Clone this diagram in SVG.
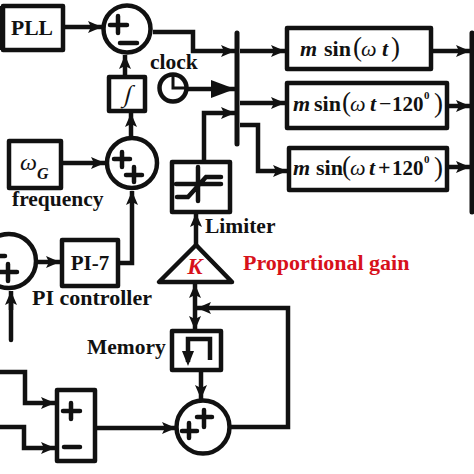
<svg xmlns="http://www.w3.org/2000/svg" width="474" height="474" viewBox="0 0 474 474">
<style>
text{font-family:"Liberation Serif","Times New Roman",serif;font-weight:bold;fill:#111}
.b{fill:#fff;stroke:#111;stroke-width:4.5;stroke-linejoin:round}
.c{fill:none;stroke:#111;stroke-width:4.5;stroke-linejoin:miter}
.a{marker-end:url(#ar)}
.s{fill:none;stroke:#111;stroke-width:4.5;stroke-linecap:round}
.l{font-size:21.5px}
.f{font-size:22px;font-style:italic}
.g{font-size:22px}
.n{font-size:21px}
.p{font-size:27px;font-weight:normal}
.o{font-size:22px;font-style:italic;font-weight:normal}
</style>
<defs>
<marker id="ar" markerUnits="userSpaceOnUse" markerWidth="14" markerHeight="12" refX="14" refY="6" orient="auto"><path d="M0 0L14 6L0 12L3 6Z" fill="#111"/></marker>
<marker id="al" markerUnits="userSpaceOnUse" markerWidth="14" markerHeight="12" refX="14" refY="6" orient="auto-start-reverse"><path d="M0 0L14 6L0 12L3 6Z" fill="#111"/></marker>
<marker id="big" markerUnits="userSpaceOnUse" markerWidth="24" markerHeight="20" refX="24" refY="10" orient="auto"><path d="M0 1L24 10L0 19Z" fill="#111"/></marker>
</defs>
<rect width="474" height="474" fill="#fff"/>
<g id="connectors">
<path class="c a" d="M63 27H102"/>
<path class="c a" d="M153 32H193V51H235"/>
<path class="c a" d="M125 75V55"/>
<path class="c a" d="M131 138V113"/>
<path class="c a" d="M61 163H105"/>
<path class="c" d="M119 263H132V191" marker-end="url(#ar)"/>
<path class="c" d="M186 89H235" marker-end="url(#big)"/>
<path class="c a" d="M204 161V113H235"/>
<path class="c a" d="M196 246V213"/>
<path class="c a" d="M38 262H60"/>
<path d="M11 340V300" fill="none" stroke="#111" stroke-width="4.5" stroke-linecap="round"/>
<path class="c a" d="M11 310V291"/>
<path class="c" d="M195 330V284" marker-start="url(#al)" marker-end="url(#al)"/>
<path class="c a" d="M230 427H288V308H197"/>
<path class="c a" d="M201 371V399"/>
<path class="c a" d="M0 372H25V403H55"/>
<path class="c a" d="M0 427H24V448H55"/>
<path class="c a" d="M96 428H176"/>
<path class="c a" d="M240 51H285"/>
<path class="c a" d="M240 103H285"/>
<path class="c a" d="M240 125H258V171H287"/>
<path class="c a" d="M432 51H470"/>
<path class="c a" d="M448 106H470"/>
<path class="c a" d="M448 167H470"/>
<path d="M237 33V144" fill="none" stroke="#111" stroke-width="5" stroke-linecap="round"/>
<path d="M472 33V212" fill="none" stroke="#111" stroke-width="5" stroke-linecap="round"/>
</g>
<g id="pll"><rect class="b" x="3" y="6" width="60" height="44"/><path d="M2 6V50" stroke="#111" stroke-width="5"/><text class="g" x="32" y="35" text-anchor="middle" textLength="42" lengthAdjust="spacingAndGlyphs">PLL</text></g>
<g id="sum1"><circle class="b" cx="127" cy="29" r="23.5"/><path class="s" d="M110 25H127M118 16V33M120 43H137"/></g>
<g id="integrator"><rect class="b" x="109" y="77" width="36" height="34"/><text x="127" y="102" font-size="24" text-anchor="middle" transform="skewX(-14) translate(25 0)" style="font-weight:normal">∫</text></g>
<g id="sum2"><circle class="b" cx="132" cy="163" r="25"/><path class="s" d="M114 159H130M122 152V167M126 175H142M134 167V182"/></g>
<g id="omega"><rect class="b" x="9" y="141" width="52" height="47"/><text x="20" y="170" font-size="24" style="font-style:italic;font-weight:normal">ω</text><text x="37" y="179" font-size="16" style="font-style:italic">G</text></g>
<g id="gridfreq"><text class="l" x="12" y="206">frequency</text></g>
<g id="clock"><text class="l" x="150" y="69">clock</text><circle class="b" cx="173" cy="88" r="13.5"/><path d="M173 75V88H186" fill="none" stroke="#111" stroke-width="3"/></g>
<g id="limiter"><rect class="b" x="172" y="162" width="58" height="50"/><path class="s" d="M177 197H188L206 177H221M176 184H221M198 167V201"/><text class="l" x="205" y="233">Limiter</text></g>
<g id="gain"><path class="b" d="M196 245L159 282H232Z"/><text x="195" y="274" font-size="23" text-anchor="middle" style="fill:#d7111b;font-style:italic">K</text><text x="243" y="270" font-size="22" style="fill:#d7111b">Proportional gain</text></g>
<g id="pi"><rect class="b" x="62" y="240" width="56" height="46"/><text x="90" y="270" font-size="21" text-anchor="middle">PI-7</text><text x="32" y="305" font-size="22">PI controller</text></g>
<g id="sum0"><circle class="b" cx="9" cy="261" r="27"/><path class="s" d="M0 256H5M0 272H17M8 264V281"/></g>
<g id="memory"><rect class="b" x="172" y="331" width="49" height="39"/><path d="M210 360V339H188V362" fill="none" stroke="#111" stroke-width="4.5"/><path d="M182 351H194L188 366Z" fill="#111"/><text class="l" x="87" y="354">Memory</text></g>
<g id="sub"><rect class="b" x="57" y="390" width="38" height="71"/><path class="s" d="M63 411H80M71 403V419M64 447H80"/></g>
<g id="sum3"><circle class="b" cx="203" cy="427" r="26.5"/><path class="s" d="M197 417H212M204 410V427M182 431H197M189 423V438"/></g>
<g id="m1"><rect class="b" x="287" y="28" width="144" height="41"/><text class="f" x="300" y="56">m</text><text class="g" x="324" y="56">sin</text><text class="p" x="353" y="56">(</text><text class="o" x="361" y="56">ω</text><text class="f" x="382" y="56">t</text><text class="p" x="391" y="56">)</text></g>
<g id="m2"><rect class="b" x="287" y="83" width="160" height="45"/><text class="f" x="293" y="111">m</text><text class="g" x="314" y="111">sin</text><text class="p" x="342" y="111">(</text><text class="o" x="350" y="111">ω</text><text class="f" x="370" y="111">t</text><text class="g" x="379" y="111" style="font-weight:normal">−</text><text class="n" x="392" y="111">120</text><text x="424" y="99" font-size="11">0</text><text class="p" x="434" y="112">)</text></g>
<g id="m3"><rect class="b" x="289" y="148" width="158" height="42"/><text class="f" x="293" y="175">m</text><text class="g" x="316" y="175">sin</text><text class="p" x="342" y="175">(</text><text class="o" x="350" y="175">ω</text><text class="f" x="369" y="175">t</text><text class="g" x="378" y="175">+</text><text class="n" x="392" y="175">120</text><text x="424" y="163" font-size="11">0</text><text class="p" x="434" y="176">)</text></g>
</svg>
